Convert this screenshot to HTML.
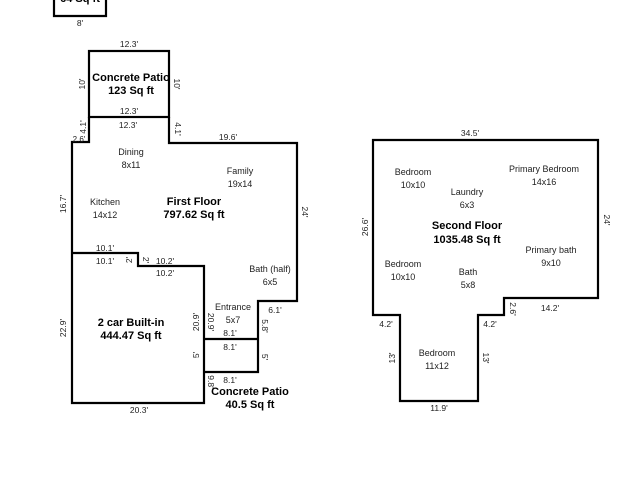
<!DOCTYPE html>
<html><head><style>
html,body{margin:0;padding:0;background:#fff;}
svg{display:block;}
text{font-family:"Liberation Sans",sans-serif;font-size:9px;fill:#222;}
.b{font-weight:bold;font-size:11px;fill:#000;}
.d{font-size:8.5px;}
</style></head><body>
<svg width="640" height="479" viewBox="0 0 640 479" xmlns="http://www.w3.org/2000/svg">
<g fill="none" stroke="#000" stroke-width="2.2">
<polyline points="54,-2 54,16 106,16 106,-2"/>
<rect x="89" y="51" width="80" height="66"/>
<polyline points="89,117 89,142 72,142 72,403 204,403 204,266 138,266 138,253 72,253"/>
<polyline points="169,117 169,143 297,143 297,301 258,301 258,372 204,372"/>
<line x1="204" y1="339" x2="258" y2="339"/>
<polygon points="373,140 598,140 598,298 504,298 504,315 478,315 478,401 400,401 400,315 373,315"/>
</g>
<text x="80" y="2" text-anchor="middle" class="b">64 Sq ft</text>
<text x="80" y="26" text-anchor="middle" class="d">8'</text>
<text x="129" y="47" text-anchor="middle" class="d">12.3'</text>
<text x="131" y="81" text-anchor="middle" class="b">Concrete Patio</text>
<text x="131" y="94" text-anchor="middle" class="b">123 Sq ft</text>
<text transform="translate(85,84) rotate(-90)" text-anchor="middle" class="d">10'</text>
<text transform="translate(174,84) rotate(90)" text-anchor="middle" class="d">10'</text>
<text x="129" y="114" text-anchor="middle" class="d">12.3'</text>
<text x="128" y="128" text-anchor="middle" class="d">12.3'</text>
<text transform="translate(86,127) rotate(-90)" text-anchor="middle" class="d">4.1'</text>
<text x="79" y="142" text-anchor="middle" style="font-size:8px">2.6'</text>
<text transform="translate(175,129) rotate(90)" text-anchor="middle" class="d">4.1'</text>
<text x="228" y="140" text-anchor="middle" class="d">19.6'</text>
<text x="131" y="155" text-anchor="middle">Dining</text>
<text x="131" y="168" text-anchor="middle">8x11</text>
<text x="240" y="174" text-anchor="middle">Family</text>
<text x="240" y="187" text-anchor="middle">19x14</text>
<text x="105" y="205" text-anchor="middle">Kitchen</text>
<text x="105" y="218" text-anchor="middle">14x12</text>
<text x="194" y="205" text-anchor="middle" class="b">First Floor</text>
<text x="194" y="218" text-anchor="middle" class="b">797.62 Sq ft</text>
<text transform="translate(66,204) rotate(-90)" text-anchor="middle" class="d">16.7'</text>
<text transform="translate(302,212) rotate(90)" text-anchor="middle" class="d">24'</text>
<text x="105" y="251" text-anchor="middle" class="d">10.1'</text>
<text x="105" y="264" text-anchor="middle" class="d">10.1'</text>
<text transform="translate(143,260) rotate(90)" text-anchor="middle" class="d">2'</text>
<text transform="translate(132,260) rotate(-90)" text-anchor="middle" class="d">2'</text>
<text x="165" y="264" text-anchor="middle" class="d">10.2'</text>
<text x="165" y="276" text-anchor="middle" class="d">10.2'</text>
<text x="270" y="272" text-anchor="middle">Bath (half)</text>
<text x="270" y="285" text-anchor="middle">6x5</text>
<text x="233" y="310" text-anchor="middle">Entrance</text>
<text x="233" y="323" text-anchor="middle">5x7</text>
<text x="275" y="313" text-anchor="middle" class="d">6.1'</text>
<text transform="translate(262,326) rotate(90)" text-anchor="middle" class="d">5.8'</text>
<text transform="translate(199,322) rotate(-90)" text-anchor="middle" class="d">20.9'</text>
<text transform="translate(208,322) rotate(90)" text-anchor="middle" class="d">20.9'</text>
<text x="230" y="336" text-anchor="middle" class="d">8.1'</text>
<text x="230" y="350" text-anchor="middle" class="d">8.1'</text>
<text transform="translate(199,355) rotate(-90)" text-anchor="middle" class="d">5'</text>
<text transform="translate(262,357) rotate(90)" text-anchor="middle" class="d">5'</text>
<text x="131" y="326" text-anchor="middle" class="b">2 car Built-in</text>
<text x="131" y="339" text-anchor="middle" class="b">444.47 Sq ft</text>
<text transform="translate(66,328) rotate(-90)" text-anchor="middle" class="d">22.9'</text>
<text x="230" y="383" text-anchor="middle" class="d">8.1'</text>
<text transform="translate(208,382) rotate(90)" text-anchor="middle" class="d">9.8'</text>
<text x="250" y="395" text-anchor="middle" class="b">Concrete Patio</text>
<text x="250" y="408" text-anchor="middle" class="b">40.5 Sq ft</text>
<text x="139" y="413" text-anchor="middle" class="d">20.3'</text>

<text x="470" y="136" text-anchor="middle" class="d">34.5'</text>
<text x="413" y="175" text-anchor="middle">Bedroom</text>
<text x="413" y="188" text-anchor="middle">10x10</text>
<text x="544" y="172" text-anchor="middle">Primary Bedroom</text>
<text x="544" y="185" text-anchor="middle">14x16</text>
<text x="467" y="195" text-anchor="middle">Laundry</text>
<text x="467" y="208" text-anchor="middle">6x3</text>
<text x="467" y="229" text-anchor="middle" class="b">Second Floor</text>
<text x="467" y="243" text-anchor="middle" class="b">1035.48 Sq ft</text>
<text transform="translate(368,227) rotate(-90)" text-anchor="middle" class="d">26.6'</text>
<text transform="translate(604,220) rotate(90)" text-anchor="middle" class="d">24'</text>
<text x="551" y="253" text-anchor="middle">Primary bath</text>
<text x="551" y="266" text-anchor="middle">9x10</text>
<text x="403" y="267" text-anchor="middle">Bedroom</text>
<text x="403" y="280" text-anchor="middle">10x10</text>
<text x="468" y="275" text-anchor="middle">Bath</text>
<text x="468" y="288" text-anchor="middle">5x8</text>
<text transform="translate(510,309) rotate(90)" text-anchor="middle" class="d">2.6'</text>
<text x="550" y="311" text-anchor="middle" class="d">14.2'</text>
<text x="386" y="327" text-anchor="middle" class="d">4.2'</text>
<text x="490" y="327" text-anchor="middle" class="d">4.2'</text>
<text transform="translate(395,358) rotate(-90)" text-anchor="middle" class="d">13'</text>
<text transform="translate(483,358) rotate(90)" text-anchor="middle" class="d">13'</text>
<text x="437" y="356" text-anchor="middle">Bedroom</text>
<text x="437" y="369" text-anchor="middle">11x12</text>
<text x="439" y="411" text-anchor="middle" class="d">11.9'</text>
</svg>
</body></html>
